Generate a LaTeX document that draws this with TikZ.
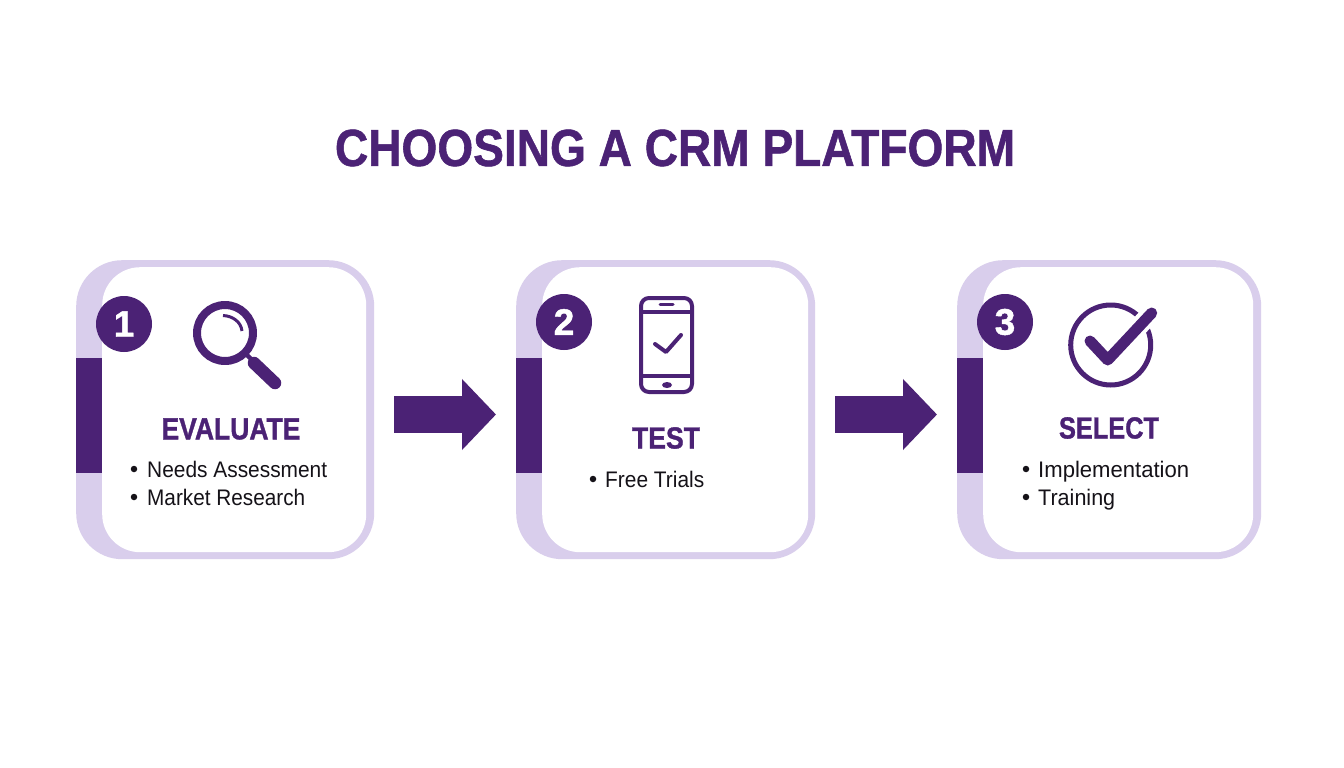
\documentclass[tikz,border=0pt]{standalone}
\usepackage{fontspec}
\usetikzlibrary{arrows.meta}
\setmainfont{Liberation Sans}
\newfontfamily\heavyfont{Liberation Sans}[UprightFont=* Bold,FakeBold=1.2]
\definecolor{deep}{HTML}{4B2275}
\definecolor{lilac}{HTML}{D9CEEC}
\definecolor{inkish}{HTML}{151218}
\newcommand{\fitw}[2]{\resizebox{#1pt}{\height}{#2}}
\tikzset{
  x=1pt,y=-1pt,
  cardouter/.style={fill=lilac,rounded corners=46pt,inner sep=0,minimum height=299pt,anchor=north west},
  cardinner/.style={fill=white,rounded corners=38pt,inner sep=0,minimum height=285pt,anchor=north west},
  sidebar/.style={fill=deep,inner sep=0,minimum width=26pt,minimum height=115pt,anchor=north west},
  badge/.style={circle,fill=deep,text=white,inner sep=0,minimum size=56pt,font=\heavyfont\fontsize{37}{37}\selectfont},
  heading/.style={text=deep,inner sep=0,font=\heavyfont\fontsize{30.5}{30.5}\selectfont},
  item/.style={text=inkish,inner sep=0,anchor=base west,font=\fontsize{22.5}{22.5}\selectfont},
  dotmark/.style={circle,fill=inkish,inner sep=0,minimum size=6.5pt},
  blockarrow/.style={deep,line width=37pt,-{Triangle[length=34pt,width=69pt]}},
  icon/.style={deep,line width=4pt,line cap=round,line join=round}
}
\begin{document}
\begin{tikzpicture}
\useasboundingbox (0,0) rectangle (1344,768);
\fill[white] (0,0) rectangle (1344,768);
\node[text=deep,inner sep=0,font=\heavyfont\fontsize{52}{52}\selectfont] (title) at (675,148) {\fitw{680}{CHOOSING A CRM PLATFORM}};
% card 1
\node[cardouter,minimum width=298pt] (c1) at (76,260) {};
\node[cardinner,minimum width=264pt] (i1) at (102,267) {};
\node[sidebar] (b1) at (76,358) {};
\node[badge] (n1) at (124,324) {1};
\draw[icon,line width=8pt] (225,333) circle (28);
\draw[icon,line width=3pt,line cap=butt] (223,315.5) .. controls (233,316) and (241,322) .. (242,331);
\draw[icon,line width=4.5pt,line cap=butt] (245,353) -- (253,361);
\draw[icon,line width=12.5pt] (254,363) -- (275,383);
\node[heading] (h1) at (231,429) {\fitw{139}{EVALUATE}};
\node[dotmark] (d11) at (134,469) {};
\node[item] (t11) at (147,477) {\fitw{180}{Needs Assessment}};
\node[dotmark] (d12) at (134,497) {};
\node[item] (t12) at (147,505.5) {\fitw{158}{Market Research}};
% card 2
\node[cardouter,minimum width=299pt] (c2) at (516,260) {};
\node[cardinner,minimum width=266pt] (i2) at (542,267) {};
\node[sidebar] (b2) at (516,358) {};
\node[badge] (n2) at (564,322) {2};
\draw[icon,rounded corners=8pt] (641,298) rectangle (692,392);
\draw[icon,line cap=butt] (641,312) -- (692,312);
\draw[icon,line cap=butt] (641,376) -- (692,376);
\draw[icon,line width=3pt] (660,304) -- (673,304);
\fill[deep] (667,385) ellipse (5 and 3);
\draw[icon] (655,344) -- (666,352) -- (681,335);
\node[heading] (h2) at (666,438) {\fitw{68}{TEST}};
\node[dotmark] (d21) at (593,479) {};
\node[item] (t21) at (605,487) {\fitw{99}{Free Trials}};
% card 3
\node[cardouter,minimum width=304pt] (c3) at (957,260) {};
\node[cardinner,minimum width=270pt] (i3) at (983,267) {};
\node[sidebar] (b3) at (957,358) {};
\node[badge] (n3) at (1005,322) {3};
\draw[icon,line width=5pt,line cap=butt] (1110.7,345) circle (40);
\draw[white,line width=19pt,line cap=butt] (1126,340) -- (1157,307);
\draw[icon,line width=11pt] (1090,341) -- (1107.7,360) -- (1151.7,313);
\node[heading] (h3) at (1109,428) {\fitw{100}{SELECT}};
\node[dotmark] (d31) at (1026,469) {};
\node[item] (t31) at (1038,477) {\fitw{151}{Implementation}};
\node[dotmark] (d32) at (1026,497) {};
\node[item] (t32) at (1038,505.5) {\fitw{77}{Training}};
% arrows
\coordinate (a1s) at (394,414.5);
\coordinate (a1e) at (496,414.5);
\coordinate (a2s) at (835,414.5);
\coordinate (a2e) at (937,414.5);
\draw[blockarrow] (a1s) -- (a1e);
\draw[blockarrow] (a2s) -- (a2e);
\end{tikzpicture}
\end{document}
